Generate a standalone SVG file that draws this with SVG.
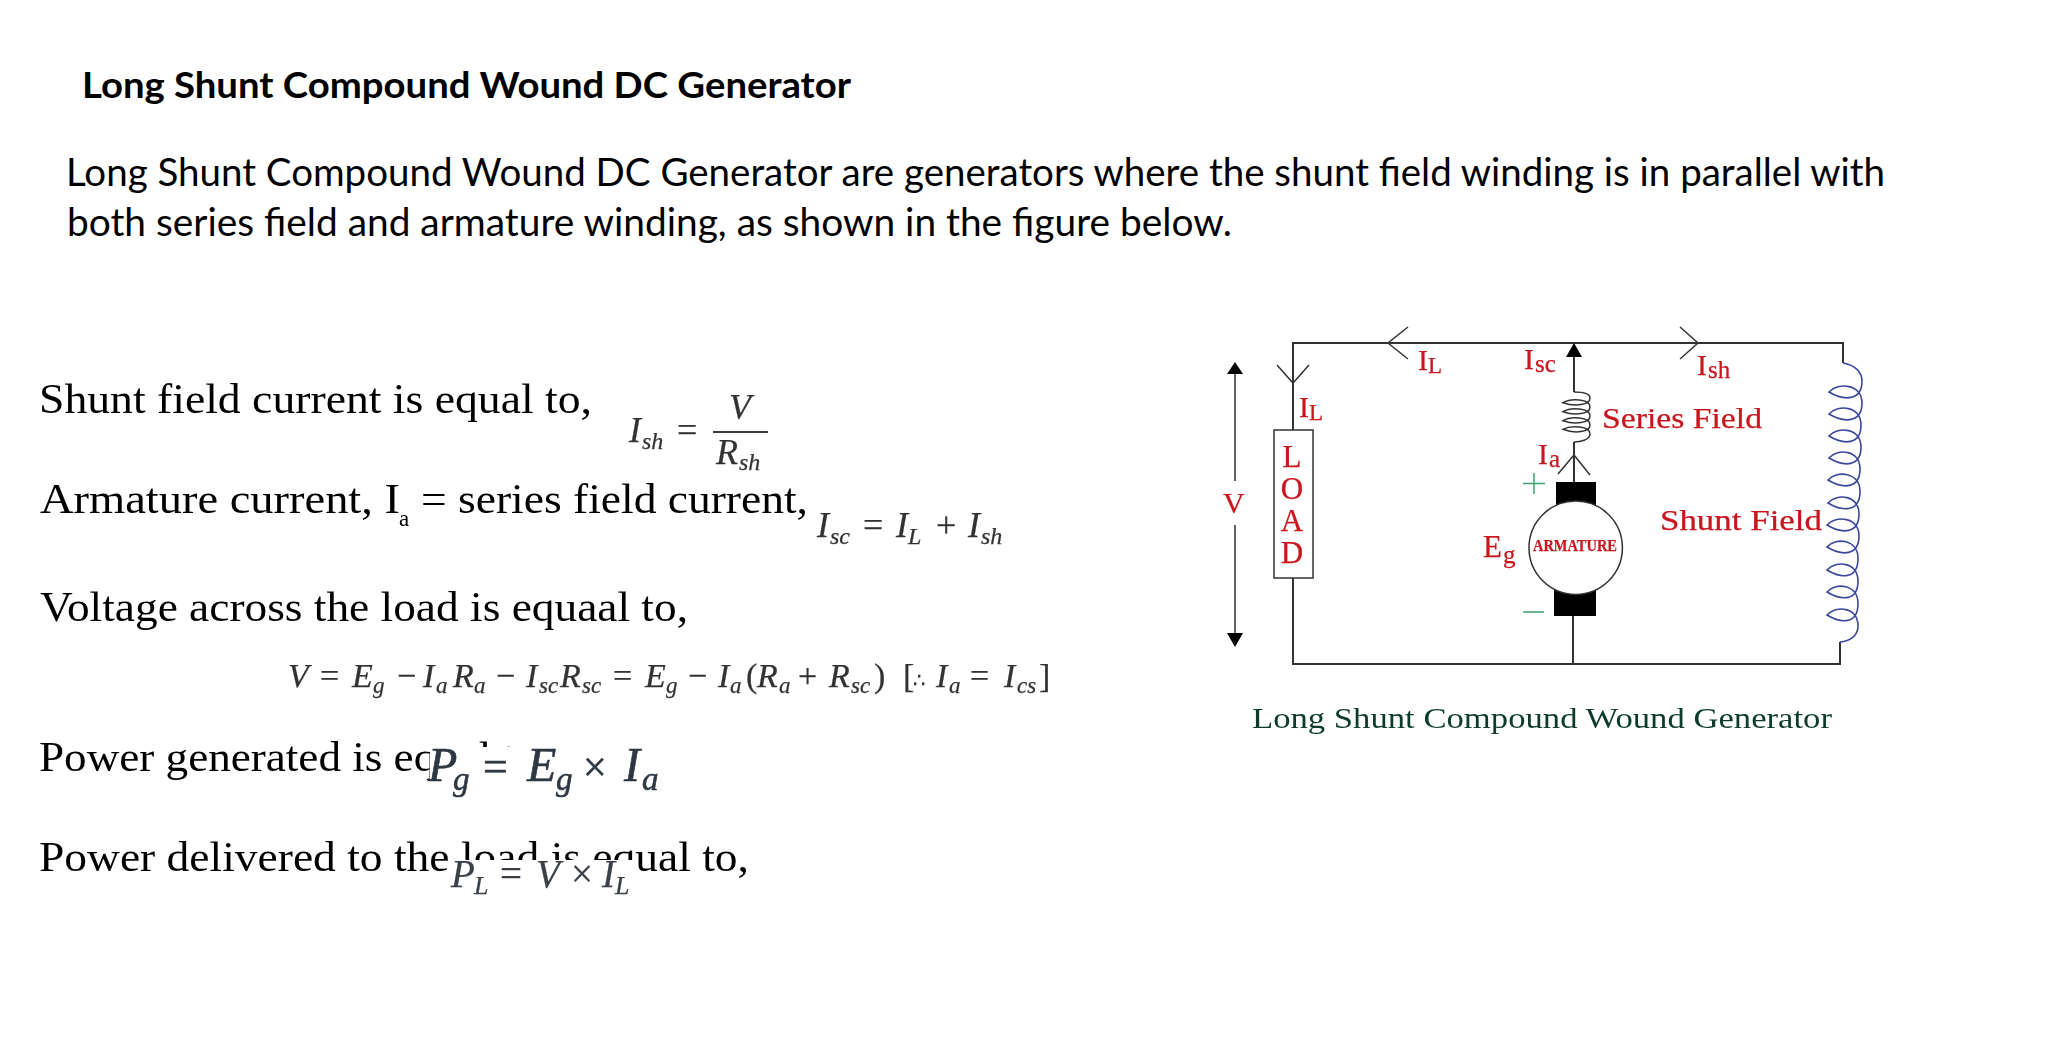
<svg xmlns="http://www.w3.org/2000/svg" width="2048" height="1046" viewBox="0 0 2048 1046">
<style>
text{white-space:pre}
.h{font-family:"Lato","Noto Sans",sans-serif;fill:#000}
.t{font-family:"Liberation Serif",serif;font-size:43px;fill:#000}
.m{font-family:"Liberation Serif",serif;font-style:italic;fill:#333;stroke:#333;stroke-width:.25}
.m1{font-size:36px}.m3{font-size:34px}.m4{font-size:48px;fill:#2f3742;stroke:#2f3742;stroke-width:.6}.m5{font-size:39px;fill:#3a4048}
.s1{font-size:24px}.s3{font-size:23px}.s4{font-size:33px}.s5{font-size:26px}
.u{font-style:normal}
.r{font-family:"Liberation Serif",serif;fill:#c8141e;stroke:#c8141e;stroke-width:.25}
.w{fill:none;stroke:#333;stroke-width:2}
.a{fill:none;stroke:#333;stroke-width:1.5}
.b{fill:#000;stroke:none}
</style>
<defs><filter id="soft" x="-5%" y="-5%" width="110%" height="110%"><feGaussianBlur stdDeviation="0.45"/></filter></defs>
<rect width="2048" height="1046" fill="#fff"/>

<g id="title"><text class="h" x="82" y="98" font-size="37" font-weight="700" textLength="769" lengthAdjust="spacingAndGlyphs">Long Shunt Compound Wound DC Generator</text></g>
<g id="intro">
<text class="h" x="66" y="186" font-size="38" textLength="1819" lengthAdjust="spacingAndGlyphs">Long Shunt Compound Wound DC Generator are generators where the shunt field winding is in parallel with</text>
<text class="h" x="67" y="236" font-size="38" textLength="1165" lengthAdjust="spacingAndGlyphs">both series field and armature winding, as shown in the figure below.</text>
</g>

<g id="body-text" filter="url(#soft)">
<text class="t" x="39" y="413" textLength="553" lengthAdjust="spacingAndGlyphs">Shunt field current is equal to,</text>
<text class="t" x="40" y="513" textLength="360" lengthAdjust="spacingAndGlyphs">Armature current, I</text>
<text class="t" x="399" y="526" style="font-size:23px">a</text>
<text class="t" x="421" y="513" textLength="387" lengthAdjust="spacingAndGlyphs">= series field current,</text>
<text class="t" x="40" y="621" textLength="648" lengthAdjust="spacingAndGlyphs">Voltage across the load is equaal to,</text>
<text class="t" x="39" y="771" textLength="510" lengthAdjust="spacingAndGlyphs">Power generated is equal to,</text>
<text class="t" x="39" y="871" textLength="710" lengthAdjust="spacingAndGlyphs">Power delivered to the load is equal to,</text>
</g>

<g id="formula-shunt" filter="url(#soft)">
<text class="m m1" y="442"><tspan x="629">I</tspan><tspan class="s1" x="642" y="449">sh</tspan><tspan class="u" x="677" y="442">=</tspan></text>
<text class="m m1" x="729" y="419">V</text>
<rect x="713" y="431" width="55" height="2" fill="#3c3c3c"/>
<text class="m m1" y="464"><tspan x="716">R</tspan><tspan class="s1" x="739" y="470">sh</tspan></text>
</g>
<g id="formula-series" filter="url(#soft)">
<text class="m m1" y="537"><tspan x="817">I</tspan><tspan class="s1" x="830" y="544">sc</tspan><tspan class="u" x="863" y="537">=</tspan><tspan x="896">I</tspan><tspan class="s1" x="908" y="544">L</tspan><tspan class="u" x="936" y="537">+</tspan><tspan x="968">I</tspan><tspan class="s1" x="981" y="544">sh</tspan></text>
</g>
<g id="formula-voltage" filter="url(#soft)">
<text class="m m3" y="687"><tspan x="288">V</tspan><tspan class="u" x="320">=</tspan><tspan x="352">E</tspan><tspan class="s3" x="373" y="693">g</tspan><tspan class="u" x="397" y="687">−</tspan><tspan x="423">I</tspan><tspan class="s3" x="436" y="693">a</tspan><tspan x="453" y="687">R</tspan><tspan class="s3" x="474" y="693">a</tspan><tspan class="u" x="496" y="687">−</tspan><tspan x="526">I</tspan><tspan class="s3" x="539" y="693">sc</tspan><tspan x="560" y="687">R</tspan><tspan class="s3" x="582" y="693">sc</tspan><tspan class="u" x="613" y="687">=</tspan><tspan x="645">E</tspan><tspan class="s3" x="666" y="693">g</tspan><tspan class="u" x="688" y="687">−</tspan><tspan x="718">I</tspan><tspan class="s3" x="730" y="693">a</tspan><tspan class="u" x="746" y="687">(</tspan><tspan x="757">R</tspan><tspan class="s3" x="779" y="693">a</tspan><tspan class="u" x="798" y="687">+</tspan><tspan x="829">R</tspan><tspan class="s3" x="851" y="693">sc</tspan><tspan class="u" x="874" y="687">)</tspan><tspan class="u" x="903">[</tspan><tspan class="u" x="913" font-family="DejaVu Sans" style="font-size:20px">∴</tspan><tspan x="936">I</tspan><tspan class="s3" x="949" y="693">a</tspan><tspan class="u" x="970" y="687">=</tspan><tspan x="1004">I</tspan><tspan class="s3" x="1017" y="693">cs</tspan><tspan class="u" x="1039" y="687">]</tspan></text>
</g>
<g id="formula-power-generated" filter="url(#soft)">
<rect x="430" y="747" width="240" height="62" fill="#fff"/>
<text class="m m4" y="781"><tspan x="428">P</tspan><tspan class="s4" x="453" y="790">g</tspan><tspan class="u" x="483" y="781" style="font-size:44px">=</tspan><tspan x="527">E</tspan><tspan class="s4" x="556" y="790">g</tspan><tspan class="u" x="583" y="781" style="font-size:42px">×</tspan><tspan x="624">I</tspan><tspan class="s4" x="642" y="790">a</tspan></text>
</g>
<g id="formula-power-delivered" filter="url(#soft)">
<rect x="451" y="860" width="184" height="40" fill="#fff"/>
<text class="m m5" y="887"><tspan x="451">P</tspan><tspan class="s5" x="474" y="894">L</tspan><tspan class="u" x="500" y="887">=</tspan><tspan x="536">V</tspan><tspan class="u" x="571">×</tspan><tspan x="602">I</tspan><tspan class="s5" x="615" y="894">L</tspan></text>
</g>

<g id="connectors" filter="url(#soft)">
<path class="w" d="M1843 363V343H1293V430M1293 578V664H1840V642"/>
<path class="w" d="M1574 343V392M1574 442V482M1573 616V664"/>
<path class="a" d="M1408 327L1388 343L1408 359M1680 327L1698 343L1680 359M1277 365L1293 383L1309 365M1558 474L1574 455L1590 475"/>
<path class="b" d="M1574 343L1582 357H1566ZM1235 362L1243 374H1227ZM1235 647L1243 633H1227Z"/>
<path class="a" d="M1235 374V481M1235 525V633"/>
</g>

<g id="load" filter="url(#soft)">
<rect x="1274" y="430" width="39" height="148" fill="#fff" stroke="#333" stroke-width="1.5"/>
<text class="r" text-anchor="middle" font-size="31" x="1292" y="467">L</text>
<text class="r" text-anchor="middle" font-size="31" x="1292" y="499">O</text>
<text class="r" text-anchor="middle" font-size="31" x="1292" y="531">A</text>
<text class="r" text-anchor="middle" font-size="31" x="1292" y="563">D</text>
</g>

<g id="armature" filter="url(#soft)">
<rect x="1556" y="482" width="40" height="28" fill="#000"/>
<rect x="1554" y="590" width="42" height="26" fill="#000"/>
<circle cx="1575.7" cy="547.7" r="46.7" fill="#fff" stroke="#333" stroke-width="1.5"/>
<text class="r" x="1533" y="551" font-size="17" font-weight="700" textLength="84" lengthAdjust="spacingAndGlyphs">ARMATURE</text>
</g>

<g id="series-field" filter="url(#soft)">
<path class="a" d="M1574 392C1585 392 1590 394 1590 398C1590 405 1575 407 1563 402.7C1571 398 1590 399 1590 407C1590 414 1575 416 1563 411.7C1571 407 1590 408 1590 416C1590 423 1575 425 1563 420.7C1571 416 1590 417 1590 425C1590 432 1575 434 1563 429.3C1571 425 1590 426 1590 434C1590 440 1580 442 1574 442"/>
<text class="r" x="1602" y="428" font-size="29" textLength="160" lengthAdjust="spacingAndGlyphs">Series Field</text>
</g>

<g id="shunt-field" filter="url(#soft)">
<path fill="none" stroke="#3b479a" stroke-width="1.6" d="M1843 363C1855 365 1862 372 1862 381C1862 401 1844 401 1829 392C1838 382 1862 384 1862 403C1862 423 1844 423 1829 414C1838 404 1861 406 1861 425C1861 445 1844 445 1829 436C1838 426 1861 428 1861 447C1861 467 1844 467 1829 458C1838 448 1860 450 1860 469C1860 489 1843 489 1828 480C1837 470 1860 472 1860 491.5C1860 512 1843 512 1828 503C1837 493 1859 495 1859 514C1859 534 1842 534 1827 525C1836 515 1859 517 1859 536C1859 556 1842 556 1827 547C1836 537 1858 539 1858 558.5C1858 579 1842 579 1827 570C1836 560 1858 562 1858 581C1858 601 1842 601 1827 592C1836 582 1858 584 1858 603.5C1858 624 1842 624 1827 615C1836 605 1858 607 1858 626C1858 636 1850 641 1840 642"/>
<text class="r" x="1660" y="530" font-size="29" textLength="162" lengthAdjust="spacingAndGlyphs">Shunt Field</text>
</g>

<g id="labels" filter="url(#soft)">
<text class="r" font-size="30" y="370"><tspan x="1418">I</tspan><tspan x="1428" y="373" style="font-size:23px">L</tspan></text>
<text class="r" font-size="30" y="417"><tspan x="1299">I</tspan><tspan x="1309" y="420" style="font-size:23px">L</tspan></text>
<text class="r" font-size="30" y="369"><tspan x="1524">I</tspan><tspan x="1535" y="372" style="font-size:25px">sc</tspan></text>
<text class="r" font-size="30" y="375"><tspan x="1697">I</tspan><tspan x="1708" y="378" style="font-size:25px">sh</tspan></text>
<text class="r" font-size="30" y="464"><tspan x="1538">I</tspan><tspan x="1549" y="467" style="font-size:25px">a</tspan></text>
<text class="r" font-size="31" y="557"><tspan x="1483">E</tspan><tspan x="1503" y="563" style="font-size:25px">g</tspan></text>
<text class="r" font-size="30" x="1223" y="513">V</text>
<path fill="none" stroke="#3aa06e" stroke-width="1.5" d="M1523 483.5H1545M1534 473V494M1523 612H1544"/>
</g>

<g id="caption" filter="url(#soft)"><text x="1252" y="728" font-family="Liberation Serif, serif" font-size="29" fill="#0f3d2a" textLength="580" lengthAdjust="spacingAndGlyphs">Long Shunt Compound Wound Generator</text></g>
</svg>
